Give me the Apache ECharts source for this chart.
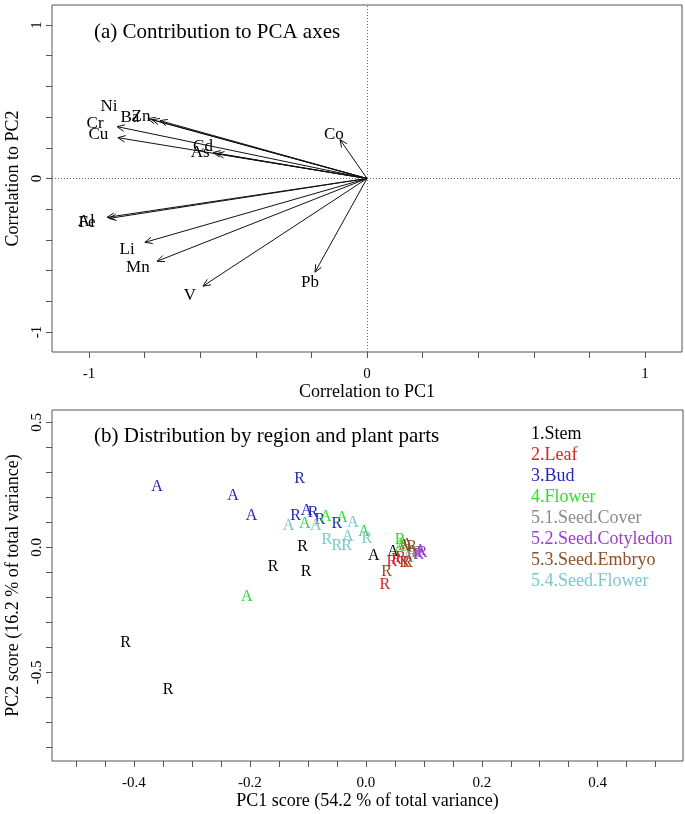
<!DOCTYPE html>
<html>
<head>
<meta charset="utf-8">
<script src="https://cdn.jsdelivr.net/npm/echarts@6/dist/echarts.min.js"></script>
<style>
html, body { margin: 0; padding: 0; background: #fff; }
#main { width: 685px; height: 814px; }
</style>
</head>
<body>
<div id="main"></div>
<script>
// panel (a): loadings
var varNames = ['Ni', 'Ba', 'Zn', 'Cr', 'Cu', 'Cd', 'As', 'Co', 'Al', 'Fe', 'Li', 'Mn', 'V', 'Pb'];
var tipPC1 = [-0.788, -0.773, -0.745, -0.899, -0.896, -0.554, -0.540, -0.097, -0.935, -0.928, -0.799, -0.755, -0.590, -0.187];
var tipPC2 = [0.390, 0.383, 0.377, 0.338, 0.266, 0.169, 0.162, 0.253, -0.253, -0.260, -0.416, -0.539, -0.701, -0.610];
var labelPC1 = [-0.928, -0.853, -0.813, -0.978, -0.966, -0.590, -0.600, -0.119, -1.010, -1.007, -0.863, -0.824, -0.637, -0.205];
var labelPC2 = [0.468, 0.396, 0.403, 0.357, 0.286, 0.208, 0.169, 0.286, -0.279, -0.290, -0.461, -0.578, -0.760, -0.675];

var corrTicks = [-1, -0.8, -0.6, -0.4, -0.2, 0, 0.2, 0.4, 0.6, 0.8, 1];
var corrLabels = [-1, 0, 1];

// panel (b): scores, [PC1, PC2, region]
var groupNames = ['1.Stem', '2.Leaf', '3.Bud', '4.Flower', '5.1.Seed.Cover', '5.2.Seed.Cotyledon', '5.3.Seed.Embryo', '5.4.Seed.Flower'];
var groupColors = ['#000000', '#d82424', '#2626b8', '#2fe02f', '#8a8a8a', '#9b3dcc', '#8d4f25', '#7ac8cc'];

var stemPts = [[0.014, -0.034, 'A'], [0.047, -0.018, 'A'], [-0.109, 0.004, 'R'], [-0.160, -0.076, 'R'], [-0.103, -0.096, 'R'], [-0.414, -0.382, 'R'], [-0.341, -0.570, 'R']];
var leafPts = [[0.045, -0.058, 'R'], [0.053, -0.048, 'R'], [0.067, -0.062, 'R'], [0.033, -0.149, 'R'], [0.060, -0.040, 'R']];
var budPts = [[-0.360, 0.241, 'A'], [-0.229, 0.205, 'A'], [-0.197, 0.128, 'A'], [-0.114, 0.273, 'R'], [-0.121, 0.128, 'R'], [-0.102, 0.145, 'A'], [-0.091, 0.140, 'R'], [-0.079, 0.112, 'R'], [-0.050, 0.096, 'R']];
var flowerPts = [[-0.105, 0.096, 'A'], [-0.069, 0.124, 'A'], [-0.041, 0.120, 'A'], [-0.003, 0.064, 'A'], [-0.205, -0.197, 'A'], [0.059, 0.032, 'R'], [0.059, 0.002, 'A'], [0.064, 0.016, 'A']];
var coverPts = [[0.081, -0.016, 'A'], [0.088, -0.022, 'R'], [0.073, -0.040, 'A'], [0.080, -0.030, 'R']];
var cotyledonPts = [[0.097, -0.020, 'R'], [0.091, -0.028, 'R'], [0.094, -0.012, 'A']];
var embryoPts = [[0.071, 0.012, 'A'], [0.079, 0.004, 'R'], [0.072, -0.062, 'R'], [0.036, -0.096, 'R'], [0.066, 0.006, 'A']];
var seedFlowerPts = [[-0.133, 0.088, 'A'], [-0.086, 0.088, 'A'], [-0.022, 0.100, 'A'], [-0.067, 0.032, 'R'], [-0.050, 0.008, 'R'], [-0.033, 0.008, 'R'], [-0.031, 0.044, 'A'], [0.002, 0.036, 'R']];
var groupPts = [stemPts, leafPts, budPts, flowerPts, coverPts, cotyledonPts, embryoPts, seedFlowerPts];

var pc1Ticks = [-0.5, -0.45, -0.4, -0.35, -0.3, -0.25, -0.2, -0.15, -0.1, -0.05, 0, 0.05, 0.1, 0.15, 0.2, 0.25, 0.3, 0.35, 0.4, 0.45, 0.5];
var pc1Labels = [-0.4, -0.2, 0, 0.2, 0.4];
var pc2Ticks = [-0.8, -0.7, -0.6, -0.5, -0.4, -0.3, -0.2, -0.1, 0, 0.1, 0.2, 0.3, 0.4, 0.5];
var pc2Labels = [-0.5, 0, 0.5];

var serif = '"Liberation Serif", "DejaVu Serif", serif';
var boxColor = '#555';

function axisBase(extra) {
	var a = {
		type: 'value',
		axisLine: { show: false, onZero: false },
		splitLine: { show: false },
		axisTick: { show: true, inside: false, length: 6, lineStyle: { color: boxColor } },
		axisLabel: { color: '#000', fontFamily: serif, fontSize: 15, margin: 15 },
		nameLocation: 'middle',
		nameTextStyle: { color: '#000', fontFamily: serif, fontSize: 18 }
	};
	for (var k in extra) {
		if (typeof extra[k] === 'object' && a[k] && !Array.isArray(extra[k])) {
			for (var j in extra[k]) a[k][j] = extra[k][j];
		} else {
			a[k] = extra[k];
		}
	}
	return a;
}

var arrowData = varNames.map(function (n, i) {
	return [tipPC1[i], tipPC2[i], labelPC1[i], labelPC2[i]];
});

function renderArrow(params, api) {
	var p0 = api.coord([0, 0]);
	var p1 = api.coord([api.value(0), api.value(1)]);
	var lp = api.coord([api.value(2), api.value(3)]);
	var ang = Math.atan2(p1[1] - p0[1], p1[0] - p0[0]);
	var hl = 8, sp = 0.42;
	var h1 = [p1[0] - hl * Math.cos(ang - sp), p1[1] - hl * Math.sin(ang - sp)];
	var h2 = [p1[0] - hl * Math.cos(ang + sp), p1[1] - hl * Math.sin(ang + sp)];
	return {
		type: 'group',
		children: [
			{ type: 'line', shape: { x1: p0[0], y1: p0[1], x2: p1[0], y2: p1[1] }, style: { stroke: '#111', lineWidth: 1 } },
			{ type: 'polyline', shape: { points: [h1, p1, h2] }, style: { stroke: '#111', lineWidth: 1, fill: null } },
			{ type: 'text', x: lp[0], y: lp[1], style: { text: varNames[params.dataIndex], fill: '#000', font: '17px ' + serif, align: 'center', verticalAlign: 'middle' } }
		]
	};
}

function renderLetter(gi) {
	return function (params, api) {
		var p = api.coord([api.value(0), api.value(1)]);
		return {
			type: 'text', x: p[0], y: p[1],
			style: { text: groupPts[gi][params.dataIndex][2], fill: groupColors[gi], font: '16px ' + serif, align: 'center', verticalAlign: 'middle' }
		};
	};
}

var myChart = echarts.init(document.getElementById('main'), null, { renderer: 'canvas' });

var series = [{
	name: 'loadings',
	type: 'custom',
	xAxisIndex: 0,
	yAxisIndex: 0,
	renderItem: renderArrow,
	data: arrowData,
	silent: true,
	markLine: {
		silent: true,
		symbol: 'none',
		label: { show: false },
		lineStyle: { color: '#666', type: [1, 2], width: 1 },
		data: [{ xAxis: 0 }, { yAxis: 0 }]
	}
}];
groupNames.forEach(function (g, i) {
	series.push({
		name: g,
		type: 'custom',
		xAxisIndex: 1,
		yAxisIndex: 1,
		renderItem: renderLetter(i),
		data: groupPts[i].map(function (p) { return [p[0], p[1]]; }),
		silent: true
	});
});

var options = {
	backgroundColor: '#fff',
	animation: false,
	title: [
		{ text: '(a) Contribution to PCA axes', left: 89, top: 17, textStyle: { fontFamily: serif, fontSize: 21, fontWeight: 'normal', color: '#000' } },
		{ text: '(b) Distribution by region and plant parts', left: 89, top: 421, textStyle: { fontFamily: serif, fontSize: 21, fontWeight: 'normal', color: '#000' } }
	],
	legend: {
		orient: 'vertical',
		left: 521,
		top: 420,
		icon: 'none',
		itemWidth: 0,
		itemHeight: 14,
		itemGap: 3,
		selectedMode: false,
		textStyle: { fontFamily: serif, fontSize: 18 },
		data: groupNames.map(function (g, i) {
			return { name: g, textStyle: { color: groupColors[i] } };
		})
	},
	grid: [
		{ left: 52, top: 5, width: 630, height: 347, outerBoundsMode: 'none', show: true, borderColor: boxColor, borderWidth: 1, backgroundColor: 'transparent' },
		{ left: 52, top: 410, width: 631, height: 351, outerBoundsMode: 'none', show: true, borderColor: boxColor, borderWidth: 1, backgroundColor: 'transparent' }
	],
	xAxis: [
		axisBase({
			gridIndex: 0, min: -1.133, max: 1.133,
			name: 'Correlation to PC1', nameGap: 31,
			axisTick: { customValues: corrTicks },
			axisLabel: { customValues: corrLabels, formatter: function (v) { return String(v); } }
		}),
		axisBase({
			gridIndex: 1, min: -0.541, max: 0.547,
			name: 'PC1 score (54.2 % of total variance)', nameGap: 31,
			axisTick: { customValues: pc1Ticks },
			axisLabel: { customValues: pc1Labels, formatter: function (v) { return v.toFixed(1); } }
		})
	],
	yAxis: [
		axisBase({
			gridIndex: 0, min: -1.13, max: 1.13,
			name: 'Correlation to PC2', nameGap: 22,
			axisTick: { customValues: corrTicks },
			axisLabel: { customValues: corrLabels, rotate: 90, margin: 7, formatter: function (v) { return String(v); } }
		}),
		axisBase({
			gridIndex: 1, min: -0.855, max: 0.55,
			name: 'PC2 score (16.2 % of total variance)', nameGap: 22,
			axisTick: { customValues: pc2Ticks },
			axisLabel: { customValues: pc2Labels, rotate: 90, margin: 7, formatter: function (v) { return v.toFixed(1); } }
		})
	],
	series: series
};

myChart.setOption(options);
</script>
</body>
</html>
